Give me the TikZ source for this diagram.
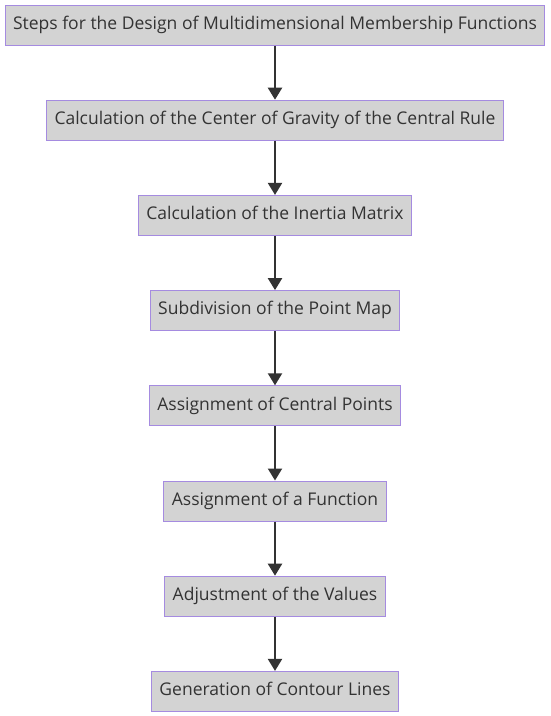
\documentclass[tikz,border=0pt]{standalone}
\usepackage{fontspec}
\setmainfont{Open Sans}
\usetikzlibrary{arrows.meta}
\definecolor{boxfill}{HTML}{D3D3D3}
\definecolor{boxline}{HTML}{A58BE0}
\definecolor{ink}{HTML}{333333}
\tikzstyle{process} = [rectangle, minimum height=40pt, text height=12.5pt, text depth=4pt, inner xsep=8pt, text centered, draw=boxline, line width=1pt, fill=boxfill, text=ink, font=\fontsize{17.5}{21}\selectfont]
\tikzstyle{arrow} = [draw=ink, line width=2.2pt, -{Triangle[length=12pt,width=14pt]}]

\begin{document}
\begin{tikzpicture}[node distance=95.2pt, x=1pt, y=1pt]
\useasboundingbox (0,0) rectangle (550,-716);

\node (S) [process] at (275,-25) {Steps for the Design of Multidimensional Membership Functions};

\node (S1) [process, below of=S] {Calculation of the Center of Gravity of the Central Rule};

\node (S2) [process, below of=S1] {Calculation of the Inertia Matrix};

\node (S3) [process, below of=S2] {Subdivision of the Point Map};

\node (S4) [process, below of=S3] {Assignment of Central Points};

\node (S5) [process, below of=S4] {Assignment of a Function};

\node (S6) [process, below of=S5] {Adjustment of the Values};

\node (S7) [process, below of=S6] {Generation of Contour Lines};

\draw [arrow] (S) -- (S1);
\draw [arrow] (S1) -- (S2);
\draw [arrow] (S2) -- (S3);
\draw [arrow] (S3) -- (S4);
\draw [arrow] (S4) -- (S5);
\draw [arrow] (S5) -- (S6);
\draw [arrow] (S6) -- (S7);
\end{tikzpicture}
\end{document}
